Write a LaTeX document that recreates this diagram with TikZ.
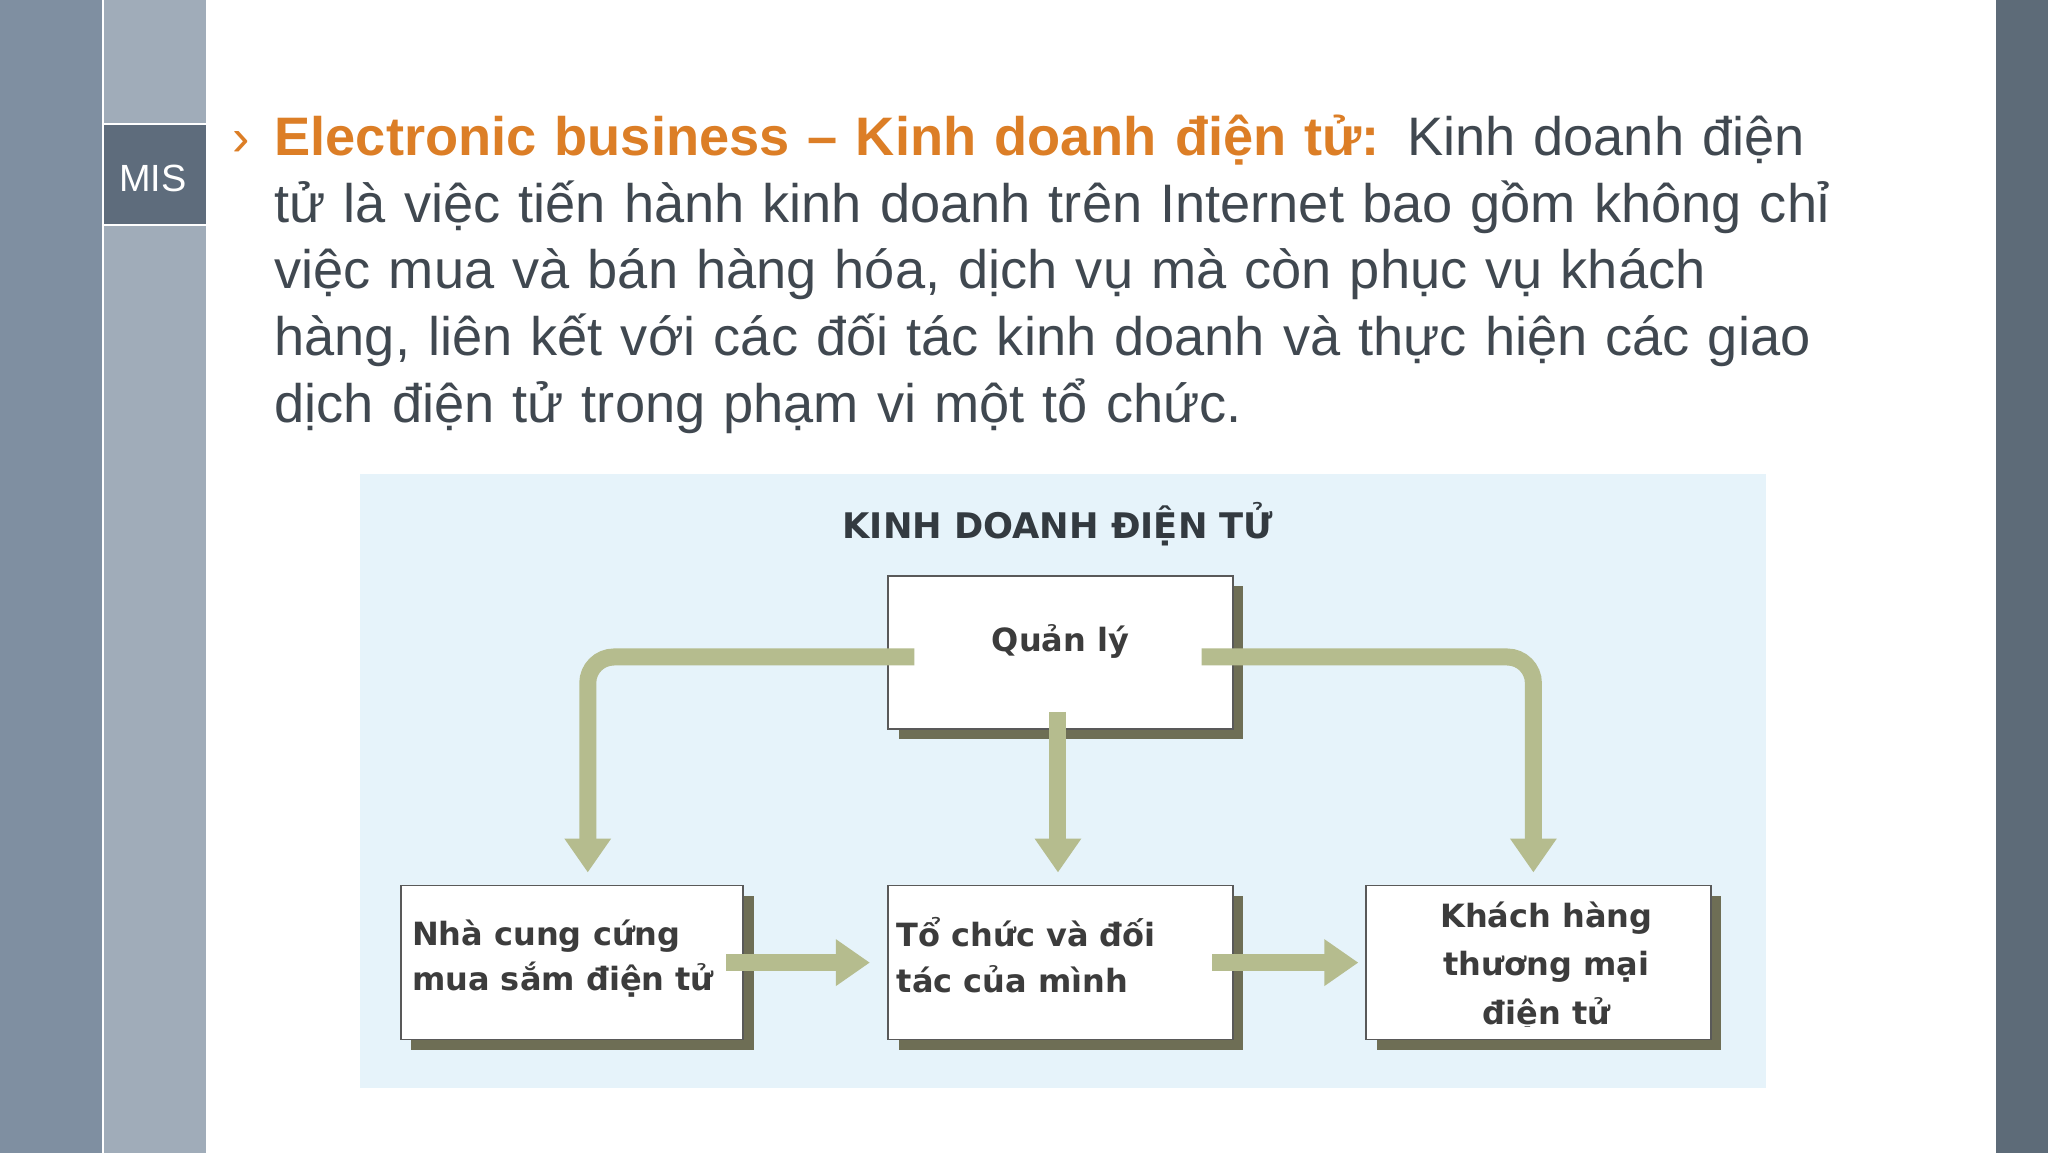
\documentclass[tikz,border=0pt]{standalone}
\usepackage{fontspec}
\setmainfont{Liberation Sans}
\newfontfamily\djvfont{DejaVu Sans}
\usetikzlibrary{arrows.meta}
\definecolor{stripA}{HTML}{7F8FA1}
\definecolor{stripB}{HTML}{A0ACB9}
\definecolor{misbox}{HTML}{5E6C7C}
\definecolor{rightstrip}{HTML}{5D6B78}
\definecolor{orangeT}{HTML}{DC7E26}
\definecolor{bodyT}{HTML}{404850}
\definecolor{diagbg}{HTML}{E6F3FA}
\definecolor{shadowC}{HTML}{6E6E55}
\definecolor{arrC}{HTML}{B5BC8E}
\definecolor{boxT}{HTML}{3C3C3C}
\begin{document}
\begin{tikzpicture}[x=1pt,y=-1pt,
  bx/.style={draw=gray!70!black,line width=1.2pt,fill=white},
  sh/.style={fill=shadowC},
  arr/.style={draw=arrC,line width=13pt,-{Triangle[length=26pt,width=34pt]}},
  btxt/.style={font=\djvfont\fontsize{24.5}{35}\selectfont\bfseries,text=boxT,align=left}]
\useasboundingbox (0,0) rectangle (1568,883);
\fill[white] (0,0) rectangle (1568,883);
\fill[stripA] (0,0) rectangle (78,883);
\fill[stripB] (80,0) rectangle (158,883);
\fill[rightstrip] (1528,0) rectangle (1568,883);
\fill[misbox] (80,95) rectangle (158,172);
\draw[white,line width=1.5pt] (80,95) -- (158,95) (80,172) -- (158,172);
\node[text=white,font=\fontsize{29}{30}\selectfont] (mis) at (117,137) {MIS};
\node[text=orangeT,font=\fontsize{40}{40}\selectfont] (bul) at (185,110) {›};
\node[anchor=north west,text width=1300pt,align=left,inner sep=0pt,text=bodyT,
  font=\fontsize{41.5}{51}\selectfont] (para) at (210,88)
 {{\color{orangeT}\bfseries Electronic business – Kinh doanh điện tử:} Kinh doanh điện\\
 tử là việc tiến hành kinh doanh trên Internet bao gồm không chỉ\\
 việc mua và bán hàng hóa, dịch vụ mà còn phục vụ khách\\
 hàng, liên kết với các đối tác kinh doanh và thực hiện các giao\\
 dịch điện tử trong phạm vi một tổ chức.};
\fill[diagbg] (276,363) rectangle (1352,833);
\node[font=\djvfont\fontsize{27}{30}\selectfont\bfseries,text=bodyT!80!black] (title) at (810,401) {KINH DOANH ĐIỆN TỬ};
\fill[sh] (688,449) rectangle (952,566);
\fill[sh] (315,686) rectangle (577,804);
\fill[sh] (688,686) rectangle (952,804);
\fill[sh] (1054,686) rectangle (1318,804);
\draw[bx] (680,441) rectangle (944,558);
\node[btxt] (ql) at (812,491) {Quản lý};
\draw[bx] (307,678) rectangle (569,796);
\node[btxt,anchor=west] (ncc) at (312,734) {Nhà cung cứng\\mua sắm điện tử};
\draw[bx] (680,678) rectangle (944,796);
\node[btxt,anchor=west] (tc) at (683,731) {Tổ chức và đối\\tác của mình};
\draw[bx] (1046,678) rectangle (1310,796);
\begin{scope}
\clip (1046,678) rectangle (1310,786);
\node[btxt,align=center,font=\djvfont\fontsize{24.5}{37}\selectfont\bfseries] (kh) at (1184,740) {Khách hàng\\thương mại\\điện tử};
\end{scope}
\coordinate (a1) at (700,503); \coordinate (a1c) at (450,503); \coordinate (a1e) at (450,668);
\coordinate (a2) at (920,503); \coordinate (a2c) at (1174,503); \coordinate (a2e) at (1174,668);
\draw[arr,rounded corners=20pt] (a1) -- (a1c) -- (a1e);
\draw[arr,rounded corners=20pt] (a2) -- (a2c) -- (a2e);
\coordinate (m1) at (810,545); \coordinate (m2) at (810,668);
\draw[arr] (m1) -- (m2);
\coordinate (h1) at (556,737); \coordinate (h2) at (666,737);
\coordinate (h3) at (928,737); \coordinate (h4) at (1040,737);
\draw[arr] (h1) -- (h2);
\draw[arr] (h3) -- (h4);
\end{tikzpicture}
\end{document}
